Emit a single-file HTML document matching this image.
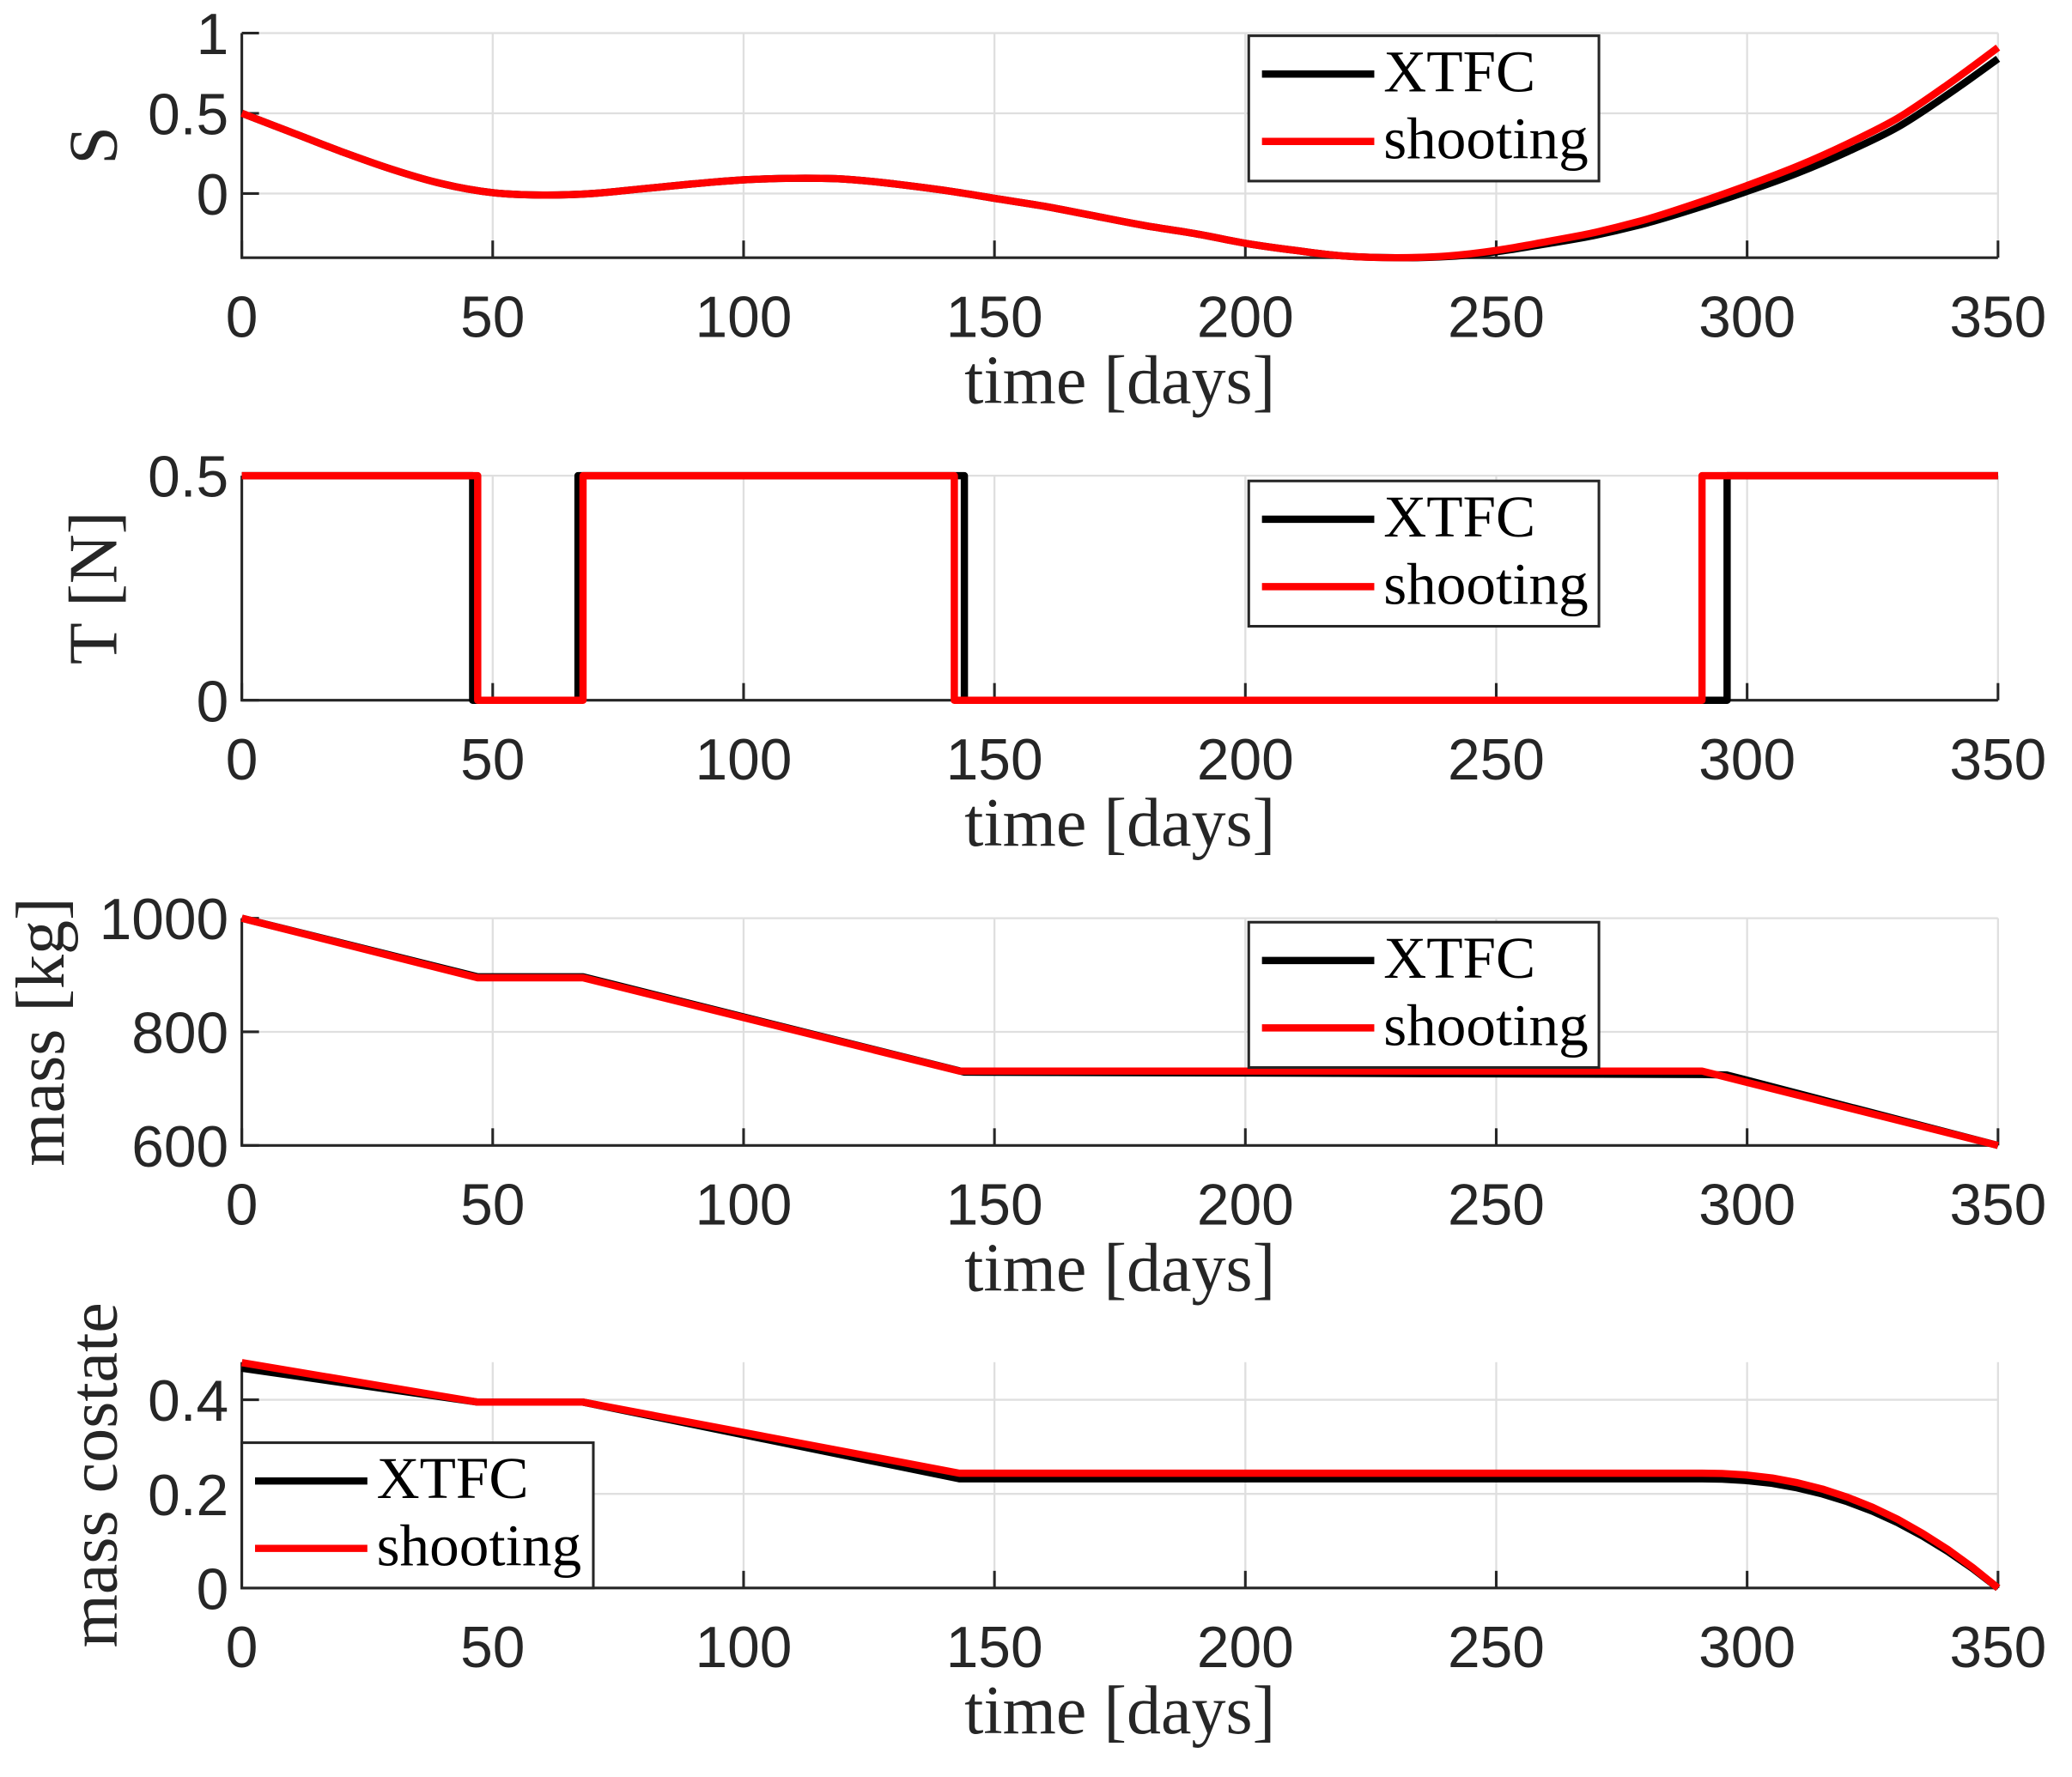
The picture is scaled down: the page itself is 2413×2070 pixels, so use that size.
<!DOCTYPE html>
<html><head><meta charset="utf-8"><style>
html,body{margin:0;padding:0;background:#fff;}
svg{display:block;}
.tk{font-family:"Liberation Sans",sans-serif;font-size:44px;fill:#262626;}
.lb{font-family:"Liberation Serif",serif;font-size:52px;fill:#262626;}
.lg{font-family:"Liberation Serif",serif;font-size:45px;fill:#000;}
</style></head><body>
<svg id="s" width="2413" height="2070" viewBox="0 0 1568 1345" xmlns="http://www.w3.org/2000/svg"></svg>
<script>
const S=document.getElementById('s');let h='';
const X0=183,X1=1512;const xs=t=>X0+(X1-X0)*t/350;
function smooth(P){ // catmull-rom
  let d='M'+P[0][0].toFixed(1)+' '+P[0][1].toFixed(1);
  for(let i=0;i<P.length-1;i++){const p0=P[i-1]||P[i],p1=P[i],p2=P[i+1],p3=P[i+2]||p2;
    const c1=[p1[0]+(p2[0]-p0[0])/6,p1[1]+(p2[1]-p0[1])/6],c2=[p2[0]-(p3[0]-p1[0])/6,p2[1]-(p3[1]-p1[1])/6];
    d+=`C${c1[0].toFixed(1)} ${c1[1].toFixed(1)} ${c2[0].toFixed(1)} ${c2[1].toFixed(1)} ${p2[0].toFixed(1)} ${p2[1].toFixed(1)}`;}
  return d;}
function panel(top,bot,ymin,ymax,yt,ylab,ylabx,legend,series){
  const ys=v=>bot-(bot-top)*(v-ymin)/(ymax-ymin);
  for(let t=50;t<=350;t+=50)h+=`<line x1="${xs(t)}" y1="${top}" x2="${xs(t)}" y2="${bot}" stroke="#dfdfdf" stroke-width="1.5"/>`;
  yt.forEach(v=>h+=`<line x1="${X0}" y1="${ys(v[0])}" x2="${X1}" y2="${ys(v[0])}" stroke="#dfdfdf" stroke-width="1.5"/>`);
  h+=`<path d="M${X0} ${top}V${bot}H${X1}" fill="none" stroke="#262626" stroke-width="2"/>`;
  for(let t=0;t<=350;t+=50){h+=`<line x1="${xs(t)}" y1="${bot}" x2="${xs(t)}" y2="${bot-13}" stroke="#262626" stroke-width="2"/>`;
    h+=`<text class="tk" x="${xs(t)}" y="${bot+60}" text-anchor="middle">${t}</text>`;}
  yt.forEach(v=>{h+=`<line x1="${X0}" y1="${ys(v[0])}" x2="${X0+13}" y2="${ys(v[0])}" stroke="#262626" stroke-width="2"/>`;
    h+=`<text class="tk" x="${X0-10}" y="${ys(v[0])+16}" text-anchor="end">${v[1]}</text>`;});
  h+=`<text class="lb" x="${(X0+X1)/2}" y="${bot+110}" text-anchor="middle">time [days]</text>`;
  const cy=(top+bot)/2;
  h+=`<text class="lb" transform="translate(${ylabx},${cy}) rotate(-90)" text-anchor="middle">${ylab}</text>`;
  series.forEach(s=>{const P=s.pts.map(p=>[xs(p[0]),ys(p[1])]);
    const d=s.sm?smooth(P):P.map((p,i)=>(i?'L':'M')+p[0].toFixed(1)+' '+p[1].toFixed(1)).join('');
    h+=`<path d="${d}" fill="none" stroke="${s.c}" stroke-width="5.5" stroke-linejoin="round"/>`;});
  const [lx,ly,lw]=legend;
  h+=`<rect x="${lx}" y="${ly}" width="${lw}" height="110" fill="#fff" stroke="#262626" stroke-width="2"/>`;
  h+=`<line x1="${lx+10}" y1="${ly+29}" x2="${lx+95}" y2="${ly+29}" stroke="#000" stroke-width="5.5"/>`;
  h+=`<line x1="${lx+10}" y1="${ly+80}" x2="${lx+95}" y2="${ly+80}" stroke="#f00" stroke-width="5.5"/>`;
  h+=`<text class="lg" x="${lx+102}" y="${ly+42}">XTFC</text><text class="lg" x="${lx+102}" y="${ly+93}">shooting</text>`;
}
const Sr=[[0,0.5],[10,0.38],[20,0.26],[30,0.15],[40,0.06],[50,0.005],[60,-0.01],[70,0.0],[80,0.03],[90,0.06],[100,0.085],[110,0.095],[120,0.09],[130,0.06],[140,0.02],[150,-0.03],[160,-0.08],[170,-0.14],[180,-0.2],[190,-0.25],[200,-0.31],[210,-0.355],[220,-0.39],[230,-0.4],[240,-0.39],[250,-0.355],[260,-0.3],[270,-0.24],[280,-0.16],[290,-0.06],[300,0.05],[310,0.17],[320,0.31],[330,0.47],[340,0.68],[350,0.91]];
const Sb=Sr.map(p=>[p[0],p[0]>230?p[1]-0.07*Math.pow((p[0]-230)/120,1.2):p[1]]);
panel(25,195,-0.4,1,[[1,'1'],[0.5,'0.5'],[0,'0']],'S',88,[945,27,265],[{c:'#000',pts:Sb,sm:1},{c:'#f00',pts:Sr,sm:1}]);
panel(360,530,0,0.5,[[0.5,'0.5'],[0,'0']],'T [N]',88,[945,364,265],[
 {c:'#000',pts:[[0,0.5],[46,0.5],[46,0],[67,0],[67,0.5],[144,0.5],[144,0],[296,0],[296,0.5],[350,0.5]]},
 {c:'#f00',pts:[[0,0.5],[47,0.5],[47,0],[68,0],[68,0.5],[142,0.5],[142,0],[291,0],[291,0.5],[350,0.5]]}]);
panel(695,867,600,1000,[[1000,'1000'],[800,'800'],[600,'600']],'mass [kg]',48,[945,698,265],[
 {c:'#000',pts:[[0,1000],[47,897],[68,897],[144,729],[291,725],[296,724],[350,600]]},
 {c:'#f00',pts:[[0,1000],[47,895],[68,895],[143,731],[291,731],[350,600]]}]);
function m4(off){const a=[[0,0.475+off],[47,0.395],[68,0.395],[143,0.24+off],[291,0.24+off]];
  for(let t=295;t<=350;t+=5){const u=(t-291)/59;a.push([t,(0.24+off)*(1-Math.pow(u,2.2))*(1+0.0*u)]);}return a;}
panel(1031,1202,0,0.48,[[0.4,'0.4'],[0.2,'0.2'],[0,'0']],'mass costate',88,[183,1092,266],[
 {c:'#000',pts:m4(-0.008)},{c:'#f00',pts:m4(0.004)}]);
S.innerHTML=h;
</script>
</body></html>
